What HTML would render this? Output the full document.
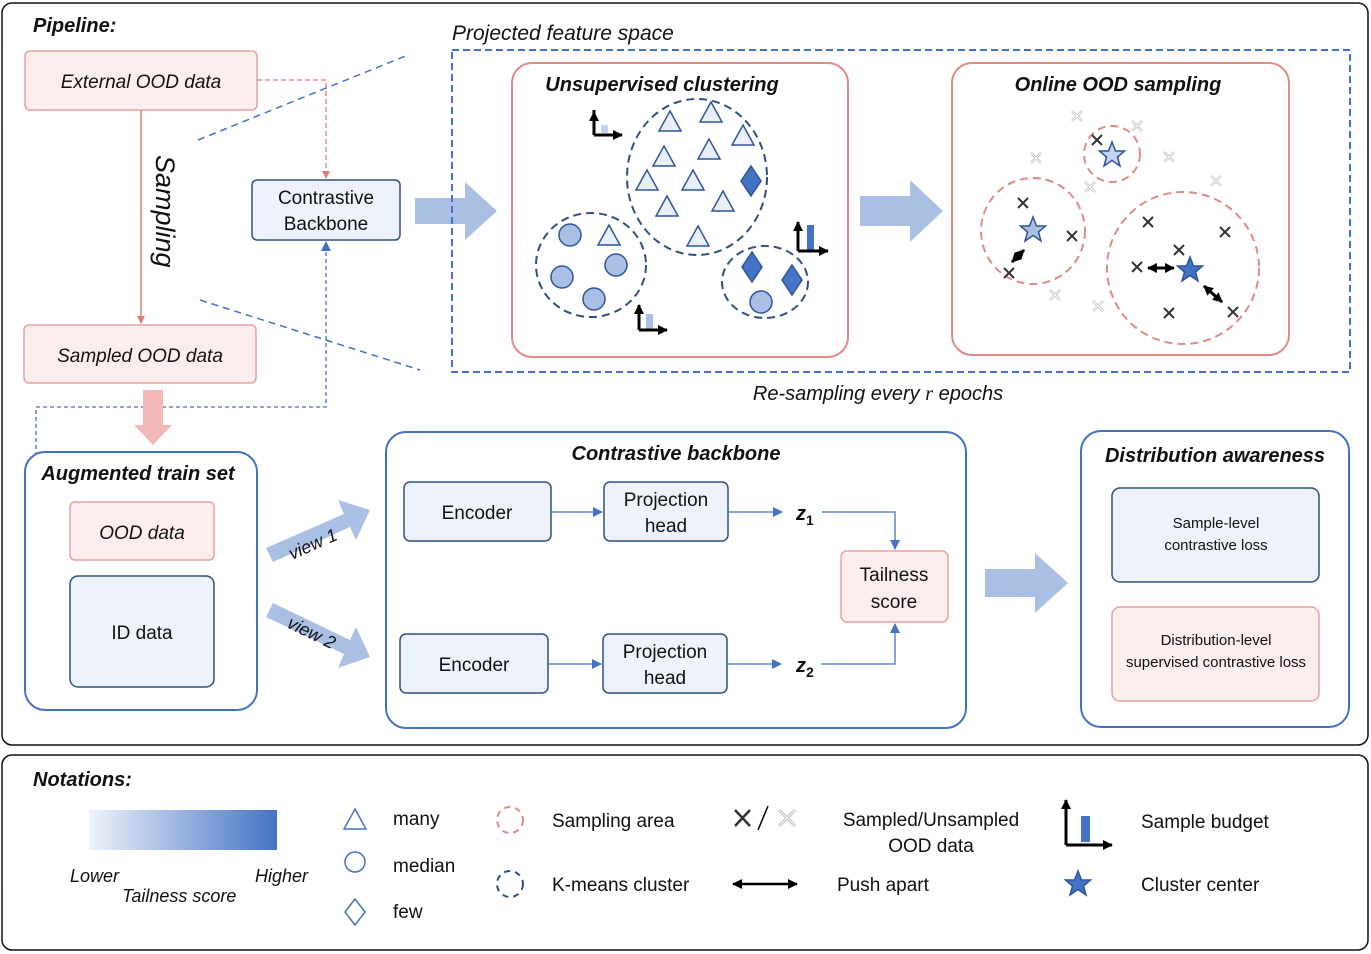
<!DOCTYPE html>
<html><head><meta charset="utf-8"><style>
html,body{margin:0;padding:0;background:#fff}
svg{display:block}
text{font-family:"Liberation Sans",sans-serif;fill:#111}
.bi{font-weight:bold;font-style:italic}
.it{font-style:italic}
</style></head><body>
<svg width="1371" height="954" viewBox="0 0 1371 954" xmlns="http://www.w3.org/2000/svg">
<defs>
<marker id="ap" markerWidth="8" markerHeight="8" refX="7" refY="4" orient="auto" markerUnits="userSpaceOnUse"><path d="M0,0 L8,4 L0,8z" fill="#e07a7a"/></marker>
<marker id="ab" markerWidth="10" markerHeight="10" refX="9" refY="5" orient="auto" markerUnits="userSpaceOnUse"><path d="M0,0 L10,5 L0,10z" fill="#4472c4"/></marker>
<marker id="ak" markerWidth="10" markerHeight="10" refX="9" refY="5" orient="auto" markerUnits="userSpaceOnUse"><path d="M0,0 L10,5 L0,10z" fill="#000"/></marker>
<marker id="aks" markerWidth="10" markerHeight="10" refX="1" refY="5" orient="auto" markerUnits="userSpaceOnUse"><path d="M10,0 L0,5 L10,10z" fill="#000"/></marker>
<linearGradient id="g" x1="0" x2="1"><stop offset="0" stop-color="#eef2fa"/><stop offset="1" stop-color="#4472c4"/></linearGradient>
<g id="tri"><path d="M0,-11 L11,9 L-11,9z" fill="#e9eff8" stroke="#2f5597" stroke-width="1.5"/></g>
<g id="cir"><circle r="11" fill="#a9bfe4" stroke="#2f5597" stroke-width="1.5"/></g>
<g id="dia"><path d="M0,-15 L10,0 L0,15 L-10,0z" fill="#4472c4" stroke="#2f5597" stroke-width="1.5"/></g>
<g id="xd"><path d="M-5,-5 L5,5 M5,-5 L-5,5" stroke="#333" stroke-width="2"/></g>
<g id="xl"><path d="M-5,-5 L5,5 M5,-5 L-5,5" stroke="#bbb" stroke-width="2.5"/><path d="M-5,-5 L5,5 M5,-5 L-5,5" stroke="#fff" stroke-width="1"/></g>
<g id="star"><path d="M0,-13 L3.5,-4 L12.5,-4 L5.5,2 L8,11 L0,5.5 L-8,11 L-5.5,2 L-12.5,-4 L-3.5,-4z" stroke="#2f5597" stroke-width="1.5"/></g>
</defs>

<rect x="2" y="3" width="1366" height="742" rx="10" fill="none" stroke="#111" stroke-width="1.5"/>
<rect x="2" y="755" width="1366" height="195" rx="10" fill="none" stroke="#111" stroke-width="1.5"/>
<text x="33" y="32" class="bi" font-size="20">Pipeline:</text>

<!-- left pipeline -->
<rect x="25" y="51" width="232" height="59" rx="5" fill="#fdeeee" stroke="#e8a0a0" stroke-width="1.5"/>
<text x="141" y="88" text-anchor="middle" class="it" font-size="19">External OOD data</text>
<rect x="24" y="325" width="232" height="58" rx="5" fill="#fdeeee" stroke="#e8a0a0" stroke-width="1.5"/>
<text x="140" y="362" text-anchor="middle" class="it" font-size="19">Sampled OOD data</text>
<line x1="141" y1="110" x2="141" y2="323" stroke="#e07a7a" stroke-width="1.5" marker-end="url(#ap)"/>
<text transform="translate(156,155) rotate(90)" class="it" font-size="27">Sampling</text>
<path d="M257,80 H326 V178" fill="none" stroke="#e07a7a" stroke-width="1.3" stroke-dasharray="5,3" marker-end="url(#ap)"/>
<rect x="252" y="180" width="148" height="60" rx="5" fill="#eef3fb" stroke="#2f4f7f" stroke-width="1.5"/>
<text x="326" y="204" text-anchor="middle" font-size="19">Contrastive</text>
<text x="326" y="230" text-anchor="middle" font-size="19">Backbone</text>
<path d="M70,632 H36 V407 H326 V242" fill="none" stroke="#4472c4" stroke-width="1.3" stroke-dasharray="4,3" marker-end="url(#ab)"/>
<line x1="198" y1="140" x2="408" y2="55" stroke="#4472c4" stroke-width="1.5" stroke-dasharray="7,5"/>
<line x1="200" y1="300" x2="420" y2="370" stroke="#4472c4" stroke-width="1.5" stroke-dasharray="7,5"/>
<path d="M415,198 H465 V182 L497,211 L465,240 V224 H415z" fill="#a9bfe4"/>

<text x="452" y="40" class="it" font-size="21">Projected feature space</text>
<rect x="452" y="50" width="898" height="322" fill="none" stroke="#4472c4" stroke-width="2" stroke-dasharray="7,4"/>

<!-- unsupervised clustering -->
<rect x="512" y="63" width="336" height="294" rx="20" fill="#fff" stroke="#e08a8a" stroke-width="2"/>
<text x="662" y="91" text-anchor="middle" class="bi" font-size="20">Unsupervised clustering</text>
<ellipse cx="697" cy="177" rx="70" ry="78" fill="none" stroke="#2f4f7f" stroke-width="2" stroke-dasharray="8,5"/>
<ellipse cx="591" cy="265" rx="55" ry="52" fill="none" stroke="#2f4f7f" stroke-width="2" stroke-dasharray="8,5"/>
<ellipse cx="765" cy="282" rx="43" ry="36" fill="none" stroke="#2f4f7f" stroke-width="2" stroke-dasharray="8,5"/>
<use href="#tri" x="670" y="122"/><use href="#tri" x="711" y="113"/><use href="#tri" x="743" y="136"/>
<use href="#tri" x="664" y="157"/><use href="#tri" x="709" y="150"/><use href="#tri" x="647" y="181"/>
<use href="#tri" x="693" y="181"/><use href="#tri" x="667" y="207"/><use href="#tri" x="723" y="202"/>
<use href="#tri" x="698" y="237"/><use href="#dia" x="751" y="181"/>
<use href="#cir" x="570" y="235"/><use href="#cir" x="616" y="265"/><use href="#cir" x="562" y="277"/><use href="#cir" x="594" y="299"/>
<use href="#tri" x="609" y="236"/>
<use href="#dia" x="752" y="267"/><use href="#dia" x="792" y="280"/><use href="#cir" x="761" y="302"/>
<!-- budget icons -->
<rect x="601" y="125" width="7" height="8" fill="#c5d3ee"/>
<path d="M594,135 V110 M594,135 H622" fill="none" stroke="#000" stroke-width="3" marker-end="url(#ak)"/>
<line x1="594" y1="135" x2="594" y2="112" stroke="#000" stroke-width="3" marker-end="url(#ak)"/>
<rect x="646" y="314" width="7" height="15" fill="#a9bfe4"/>
<line x1="639" y1="330" x2="667" y2="330" stroke="#000" stroke-width="3" marker-end="url(#ak)"/>
<line x1="639" y1="330" x2="639" y2="305" stroke="#000" stroke-width="3" marker-end="url(#ak)"/>
<rect x="807" y="225" width="7" height="26" fill="#4472c4"/>
<line x1="798" y1="251" x2="828" y2="251" stroke="#000" stroke-width="3" marker-end="url(#ak)"/>
<line x1="798" y1="251" x2="798" y2="222" stroke="#000" stroke-width="3" marker-end="url(#ak)"/>

<path d="M860,196 H910 V180 L943,211 L910,242 V226 H860z" fill="#a9bfe4"/>

<!-- online OOD sampling -->
<rect x="952" y="63" width="337" height="292" rx="20" fill="#fff" stroke="#e08a8a" stroke-width="2"/>
<text x="1118" y="91" text-anchor="middle" class="bi" font-size="20">Online OOD sampling</text>
<circle cx="1112" cy="154" r="28" fill="none" stroke="#e08a8a" stroke-width="2" stroke-dasharray="8,5"/>
<ellipse cx="1033" cy="231" rx="52" ry="53" fill="none" stroke="#e08a8a" stroke-width="2" stroke-dasharray="8,5"/>
<circle cx="1183" cy="268" r="76" fill="none" stroke="#e08a8a" stroke-width="2" stroke-dasharray="8,5"/>
<use href="#xl" x="1077" y="116"/><use href="#xl" x="1137" y="126"/><use href="#xl" x="1036" y="158"/>
<use href="#xl" x="1169" y="157"/><use href="#xl" x="1216" y="181"/><use href="#xl" x="1090" y="187"/>
<use href="#xl" x="1055" y="295"/><use href="#xl" x="1098" y="306"/>
<use href="#xd" x="1023" y="203"/><use href="#xd" x="1072" y="236"/><use href="#xd" x="1009" y="273"/>
<use href="#xd" x="1097" y="140"/><use href="#xd" x="1148" y="222"/><use href="#xd" x="1225" y="232"/>
<use href="#xd" x="1179" y="250"/><use href="#xd" x="1137" y="267"/><use href="#xd" x="1233" y="312"/><use href="#xd" x="1169" y="313"/>
<use href="#star" x="1112" y="155" fill="#c5d3ee"/><use href="#star" x="1033" y="230" fill="#a9bfe4"/><use href="#star" x="1190" y="270" fill="#4472c4"/>
<line x1="1012" y1="262" x2="1024" y2="250" stroke="#000" stroke-width="3" marker-end="url(#ak)" marker-start="url(#aks)"/>
<line x1="1148" y1="268" x2="1174" y2="268" stroke="#000" stroke-width="3" marker-end="url(#ak)" marker-start="url(#aks)"/>
<line x1="1204" y1="286" x2="1222" y2="302" stroke="#000" stroke-width="3" marker-end="url(#ak)" marker-start="url(#aks)"/>

<text x="878" y="400" text-anchor="middle" class="it" font-size="20">Re-sampling every  <tspan font-family="Liberation Serif">r</tspan> epochs</text>

<!-- augmented train set -->
<path d="M143,390 H163 V425 H172 L153,445 L134,425 H143z" fill="#f2b8b8"/>
<rect x="25" y="452" width="232" height="258" rx="20" fill="#fff" stroke="#4472c4" stroke-width="2"/>
<text x="138" y="480" text-anchor="middle" class="bi" font-size="20">Augmented train set</text>
<rect x="70" y="502" width="144" height="58" rx="5" fill="#fdeeee" stroke="#e8a0a0" stroke-width="1.5"/>
<text x="142" y="539" text-anchor="middle" class="it" font-size="19">OOD data</text>
<rect x="70" y="576" width="144" height="111" rx="8" fill="#eef3fb" stroke="#2f4f7f" stroke-width="1.5"/>
<text x="142" y="639" text-anchor="middle" font-size="19">ID data</text>
<path d="M266,548 L344,514 L338,500 L370,510 L356,540 L350,527 L273,562z" fill="#a9bfe4"/>
<text transform="translate(292,560) rotate(-24)" class="it" font-size="18">view 1</text>
<path d="M273,603 L350,640 L356,627 L370,657 L338,668 L344,654 L266,617z" fill="#a9bfe4"/>
<text transform="translate(286,627) rotate(26)" class="it" font-size="18">view 2</text>

<!-- contrastive backbone -->
<rect x="386" y="432" width="580" height="296" rx="20" fill="#fff" stroke="#4472c4" stroke-width="2"/>
<text x="676" y="460" text-anchor="middle" class="bi" font-size="20">Contrastive backbone</text>
<rect x="404" y="482" width="147" height="59" rx="6" fill="#eef3fb" stroke="#2f4f7f" stroke-width="1.5"/>
<text x="477" y="519" text-anchor="middle" font-size="19">Encoder</text>
<rect x="604" y="482" width="124" height="59" rx="6" fill="#eef3fb" stroke="#2f4f7f" stroke-width="1.5"/>
<text x="666" y="506" text-anchor="middle" font-size="19">Projection</text>
<text x="666" y="532" text-anchor="middle" font-size="19">head</text>
<rect x="400" y="634" width="148" height="59" rx="6" fill="#eef3fb" stroke="#2f4f7f" stroke-width="1.5"/>
<text x="474" y="671" text-anchor="middle" font-size="19">Encoder</text>
<rect x="603" y="634" width="124" height="59" rx="6" fill="#eef3fb" stroke="#2f4f7f" stroke-width="1.5"/>
<text x="665" y="658" text-anchor="middle" font-size="19">Projection</text>
<text x="665" y="684" text-anchor="middle" font-size="19">head</text>
<rect x="841" y="551" width="107" height="71" rx="6" fill="#fdeeee" stroke="#e8a0a0" stroke-width="1.5"/>
<text x="894" y="581" text-anchor="middle" font-size="19">Tailness</text>
<text x="894" y="608" text-anchor="middle" font-size="19">score</text>
<line x1="551" y1="512" x2="602" y2="512" stroke="#4472c4" stroke-width="1.3" marker-end="url(#ab)"/>
<line x1="728" y1="512" x2="782" y2="512" stroke="#4472c4" stroke-width="1.3" marker-end="url(#ab)"/>
<line x1="548" y1="664" x2="601" y2="664" stroke="#4472c4" stroke-width="1.3" marker-end="url(#ab)"/>
<line x1="727" y1="664" x2="781" y2="664" stroke="#4472c4" stroke-width="1.3" marker-end="url(#ab)"/>
<text x="796" y="520" font-family="Liberation Serif" font-weight="bold" font-style="italic" font-size="20">z<tspan font-size="14" dy="5" font-style="normal">1</tspan></text>
<text x="796" y="672" font-family="Liberation Serif" font-weight="bold" font-style="italic" font-size="20">z<tspan font-size="14" dy="5" font-style="normal">2</tspan></text>
<path d="M822,512 H895 V549" fill="none" stroke="#4472c4" stroke-width="1.3" marker-end="url(#ab)"/>
<path d="M821,664 H895 V624" fill="none" stroke="#4472c4" stroke-width="1.3" marker-end="url(#ab)"/>

<path d="M985,569 H1035 V553 L1068,583 L1035,613 V597 H985z" fill="#a9bfe4"/>

<!-- distribution awareness -->
<rect x="1081" y="431" width="268" height="296" rx="20" fill="#fff" stroke="#4472c4" stroke-width="2"/>
<text x="1215" y="462" text-anchor="middle" class="bi" font-size="20">Distribution awareness</text>
<rect x="1112" y="488" width="207" height="94" rx="8" fill="#eef3fb" stroke="#2f4f7f" stroke-width="1.5"/>
<text x="1216" y="528" text-anchor="middle" font-size="15">Sample-level</text>
<text x="1216" y="550" text-anchor="middle" font-size="15">contrastive loss</text>
<rect x="1112" y="607" width="207" height="94" rx="8" fill="#fdeeee" stroke="#e8a0a0" stroke-width="1.5"/>
<text x="1216" y="645" text-anchor="middle" font-size="15">Distribution-level</text>
<text x="1216" y="667" text-anchor="middle" font-size="15">supervised contrastive loss</text>

<!-- notations -->
<text x="33" y="786" class="bi" font-size="20">Notations:</text>
<rect x="89" y="810" width="188" height="40" fill="url(#g)"/>
<text x="70" y="882" class="it" font-size="18">Lower</text>
<text x="255" y="882" class="it" font-size="18">Higher</text>
<text x="122" y="902" class="it" font-size="18">Tailness score</text>
<path d="M355,809 L366,829 L344,829z" fill="none" stroke="#4472c4" stroke-width="1.5"/>
<circle cx="355" cy="862" r="10" fill="none" stroke="#4472c4" stroke-width="1.5"/>
<path d="M355,899 L365,912 L355,925 L345,912z" fill="none" stroke="#4472c4" stroke-width="1.5"/>
<text x="393" y="825" font-size="19">many</text>
<text x="393" y="872" font-size="19">median</text>
<text x="393" y="918" font-size="19">few</text>
<circle cx="510" cy="820" r="13" fill="none" stroke="#e08a8a" stroke-width="2" stroke-dasharray="6,5"/>
<circle cx="510" cy="884" r="13" fill="none" stroke="#2f4f7f" stroke-width="2" stroke-dasharray="6,5"/>
<text x="552" y="827" font-size="19">Sampling area</text>
<text x="552" y="891" font-size="19">K-means cluster</text>
<path d="M735,810 L750,826 M750,810 L735,826" stroke="#333" stroke-width="2.5"/>
<line x1="758" y1="830" x2="768" y2="806" stroke="#000" stroke-width="1.5"/>
<path d="M779,810 L795,826 M795,810 L779,826" stroke="#bbb" stroke-width="3"/>
<path d="M779,810 L795,826 M795,810 L779,826" stroke="#fff" stroke-width="1"/>
<line x1="733" y1="884" x2="797" y2="884" stroke="#000" stroke-width="2.5" marker-end="url(#ak)" marker-start="url(#aks)"/>
<text x="931" y="826" text-anchor="middle" font-size="19">Sampled/Unsampled</text>
<text x="931" y="852" text-anchor="middle" font-size="19">OOD data</text>
<text x="837" y="891" font-size="19">Push apart</text>
<rect x="1081" y="816" width="9" height="26" fill="#4472c4"/>
<line x1="1066" y1="845" x2="1112" y2="845" stroke="#000" stroke-width="3" marker-end="url(#ak)"/>
<line x1="1066" y1="845" x2="1066" y2="800" stroke="#000" stroke-width="3" marker-end="url(#ak)"/>
<use href="#star" x="1078" y="884" fill="#4472c4"/>
<text x="1141" y="828" font-size="19">Sample budget</text>
<text x="1141" y="891" font-size="19">Cluster center</text>
</svg>
</body></html>
